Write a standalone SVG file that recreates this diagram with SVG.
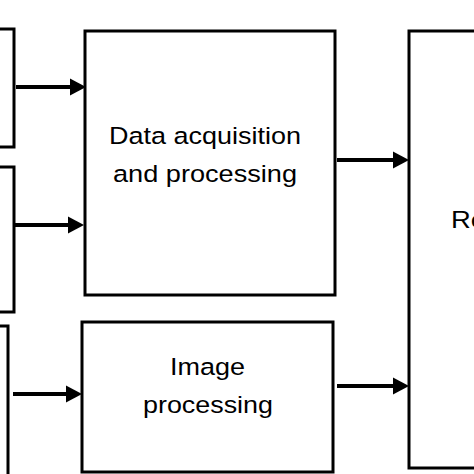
<svg xmlns="http://www.w3.org/2000/svg" width="474" height="474" viewBox="0 0 474 474">
<style>
.box{fill:#fff;stroke:#000;stroke-width:3}
.lbl{font-family:"Liberation Sans",Arial,sans-serif;font-size:24.5px;fill:#000}
.conn{stroke:#000;stroke-width:4;fill:none}
.head{fill:#000}
</style>
<rect width="474" height="474" fill="#fff"/>
<g id="input1"><rect class="box" x="-20" y="29" width="34" height="118"/></g>
<g id="input2"><rect class="box" x="-20" y="167" width="34" height="145"/></g>
<g id="input3"><rect class="box" x="-20" y="326" width="28" height="170"/></g>
<g id="data"><rect class="box" x="85" y="31" width="250" height="264"/>
<text class="lbl" x="109" y="144" textLength="192" lengthAdjust="spacingAndGlyphs">Data acquisition</text>
<text class="lbl" x="113" y="182" textLength="184" lengthAdjust="spacingAndGlyphs">and processing</text></g>
<g id="image"><rect class="box" x="82" y="322" width="251" height="150"/>
<text class="lbl" x="170" y="375" textLength="75" lengthAdjust="spacingAndGlyphs">Image</text>
<text class="lbl" x="143" y="413" textLength="130" lengthAdjust="spacingAndGlyphs">processing</text></g>
<g id="result"><rect class="box" x="409" y="31" width="90" height="437"/>
<text class="lbl" x="451" y="228" textLength="35" lengthAdjust="spacingAndGlyphs">Re</text></g>
<g id="connectors">
<line class="conn" x1="16" y1="87" x2="74" y2="87"/><polygon class="head" points="70,78.5 86,87 70,95.5"/>
<line class="conn" x1="14" y1="225" x2="72" y2="225"/><polygon class="head" points="68,216.5 84,225 68,233.5"/>
<line class="conn" x1="13" y1="394" x2="70" y2="394"/><polygon class="head" points="66,385.5 82,394 66,402.5"/>
<line class="conn" x1="337" y1="160" x2="397" y2="160"/><polygon class="head" points="393,151.5 409,160 393,168.5"/>
<line class="conn" x1="337" y1="386" x2="397" y2="386"/><polygon class="head" points="393,377.5 409,386 393,394.5"/>
</g>
</svg>
